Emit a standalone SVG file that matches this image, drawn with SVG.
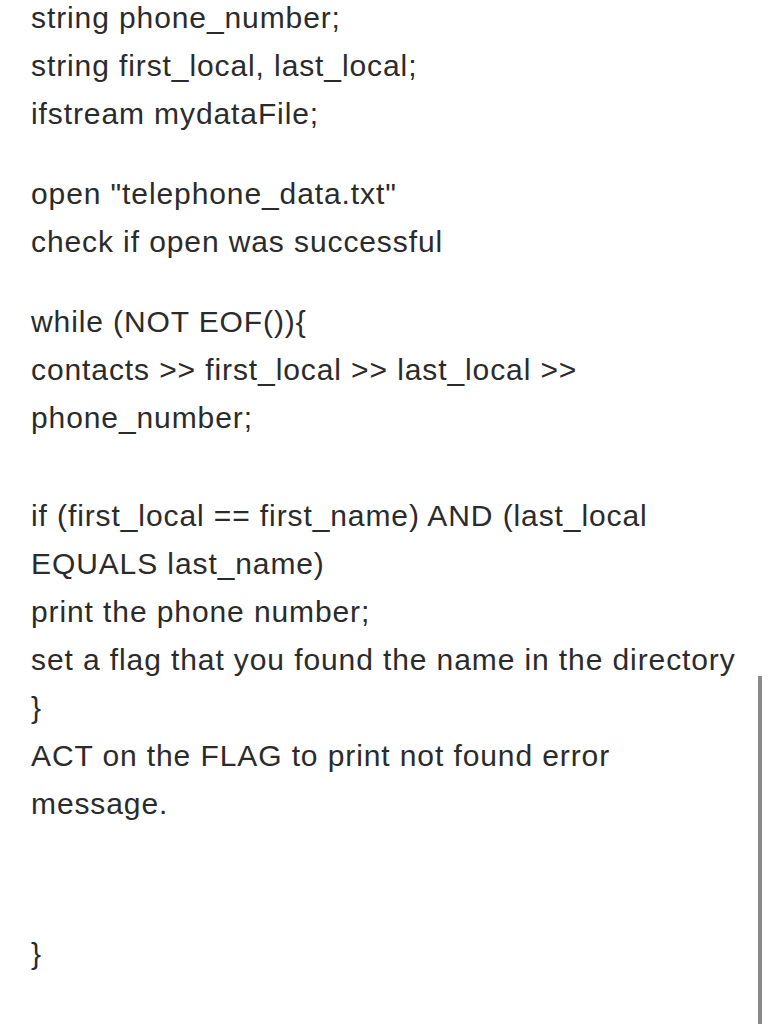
<svg xmlns="http://www.w3.org/2000/svg" width="768" height="1024" viewBox="0 0 768 1024">
<style>text{font-family:"Liberation Sans",Arial,sans-serif;font-size:30px;letter-spacing:0.9px;fill:#2b2b2b}</style>
<rect width="768" height="1024" fill="#fff"/>
<g id="code">
<text x="31" y="28">string phone_number;</text>
<text x="31" y="76">string first_local, last_local;</text>
<text x="31" y="124">ifstream mydataFile;</text>
<text x="31" y="204">open "telephone_data.txt"</text>
<text x="31" y="252">check if open was successful</text>
<text x="31" y="332">while (NOT EOF()){</text>
<text x="31" y="380">contacts &gt;&gt; first_local &gt;&gt; last_local &gt;&gt;</text>
<text x="31" y="428">phone_number;</text>
<text x="31" y="526">if (first_local == first_name) AND (last_local</text>
<text x="31" y="574">EQUALS last_name)</text>
<text x="31" y="622">print the phone number;</text>
<text x="31" y="670">set a flag that you found the name in the directory</text>
<text x="31" y="718">}</text>
<text x="31" y="766">ACT on the FLAG to print not found error</text>
<text x="31" y="814">message.</text>
<text x="31" y="964">}</text>
</g>
<rect x="758" y="676" width="4" height="348" fill="#8a8a8a"/>
</svg>
